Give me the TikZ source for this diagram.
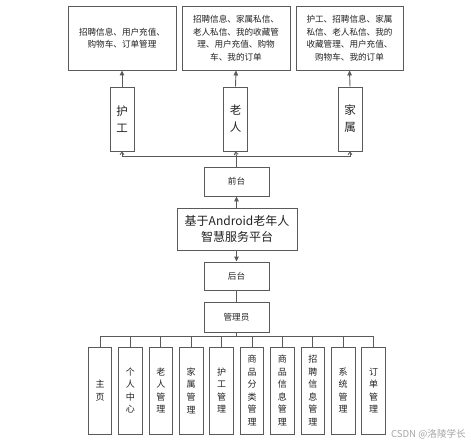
\documentclass[tikz,border=0pt]{standalone}
\usepackage{fontspec}
\setmainfont{Noto Sans CJK SC}
\usetikzlibrary{arrows.meta}
\definecolor{bd}{HTML}{5A5A5A}
\definecolor{tx}{HTML}{222222}
\tikzset{
  box/.style={draw=bd, line width=0.9pt, fill=white, text=tx, align=center, inner sep=0pt},
  topbox/.style={box, minimum width=108pt, minimum height=64pt, font=\fontsize{8.6}{12.5}\selectfont},
  midbox/.style={box, minimum width=24pt, minimum height=64pt, font=\fontsize{11.5}{17}\selectfont},
  smallbox/.style={box, minimum width=65pt, font=\fontsize{8.6}{11}\selectfont},
  vbox/.style={box, minimum width=23.5pt, minimum height=87pt, font=\fontsize{9}{12.6}\selectfont},
  conn/.style={draw=bd, line width=0.9pt},
  farrow/.style={conn, -{Triangle[length=5pt, width=4.5pt]}},
  oarrow/.style={conn, -{Straight Barb[length=2.5pt, width=4pt]}}
}
\begin{document}
\begin{tikzpicture}[x=1pt, y=-1pt]
\useasboundingbox (0,0) rectangle (474,444);
% top boxes
\node[topbox] (t1) at (122,38) {招聘信息、用户充值、\\购物车、订单管理};
\node[topbox] (t2) at (236,38) {招聘信息、家属私信、\\老人私信、我的收藏管\\理、用户充值、购物\\车、我的订单};
\node[topbox, minimum width=107pt] (t3) at (349.5,38) {护工、招聘信息、家属\\私信、老人私信、我的\\收藏管理、用户充值、\\购物车、我的订单};
% middle role boxes
\node[midbox] (m1) at (122,119) {护\\工};
\node[midbox] (m2) at (235.5,119) {老\\人};
\node[midbox] (m3) at (350,119) {家\\属};
\draw[farrow] (m1.north) -- (t1.south);
\draw[farrow] (m2.north) -- (t2.south);
\draw[farrow] (m3.north) -- (t3.south);
% front
\node[smallbox, minimum height=29pt] (qt) at (236.5,181.5) {前台};
\coordinate (busA) at (236.5,156);
\draw[conn] (qt.north) -- (busA);
\draw[oarrow] (busA) -| (m1.south);
\draw[oarrow] (busA) -| (m3.south);
\draw[oarrow] (busA) -- (m2.south);
% platform
\node[box, minimum width=120pt, minimum height=42pt, font=\fontsize{12}{16}\selectfont] (pf) at (237,229) {基于Android老年人\\智慧服务平台};
\draw[farrow] (pf.north -| qt.south) -- (qt.south);
\node[smallbox, minimum height=28pt] (ht) at (236.5,276) {后台};
\draw[farrow] (pf.south -| ht.north) -- (ht.north);
\node[smallbox, minimum height=30pt] (gly) at (236.5,317) {管理员};
\draw[conn] (ht.south) -- (gly.south |- gly.north);
% bottom
\coordinate (busB) at (236.5,336);
\draw[conn] (gly.south) -- (busB);
\foreach \i/\t in {0/主\\页, 1/个\\人\\中\\心, 2/老\\人\\管\\理, 3/家\\属\\管\\理, 4/护\\工\\管\\理, 5/商\\品\\分\\类\\管\\理, 6/商\\品\\信\\息\\管\\理, 7/招\\聘\\信\\息\\管\\理, 8/系\\统\\管\\理, 9/订\\单\\管\\理}{
  \node[vbox] (b\i) at ({100+30.4*\i},390.5) {\t};
}
\draw[conn] (b0.north |- busB) -- (b9.north |- busB);
\foreach \i in {0,...,9}{
  \draw[conn] (b\i.north |- busB) -- (b\i.north);
}
\node[text=gray!70, font=\fontsize{9.6}{11}\selectfont, anchor=east, inner sep=0pt] (wm) at (466,434) {CSDN @洛陵学长};
\end{tikzpicture}
\end{document}
